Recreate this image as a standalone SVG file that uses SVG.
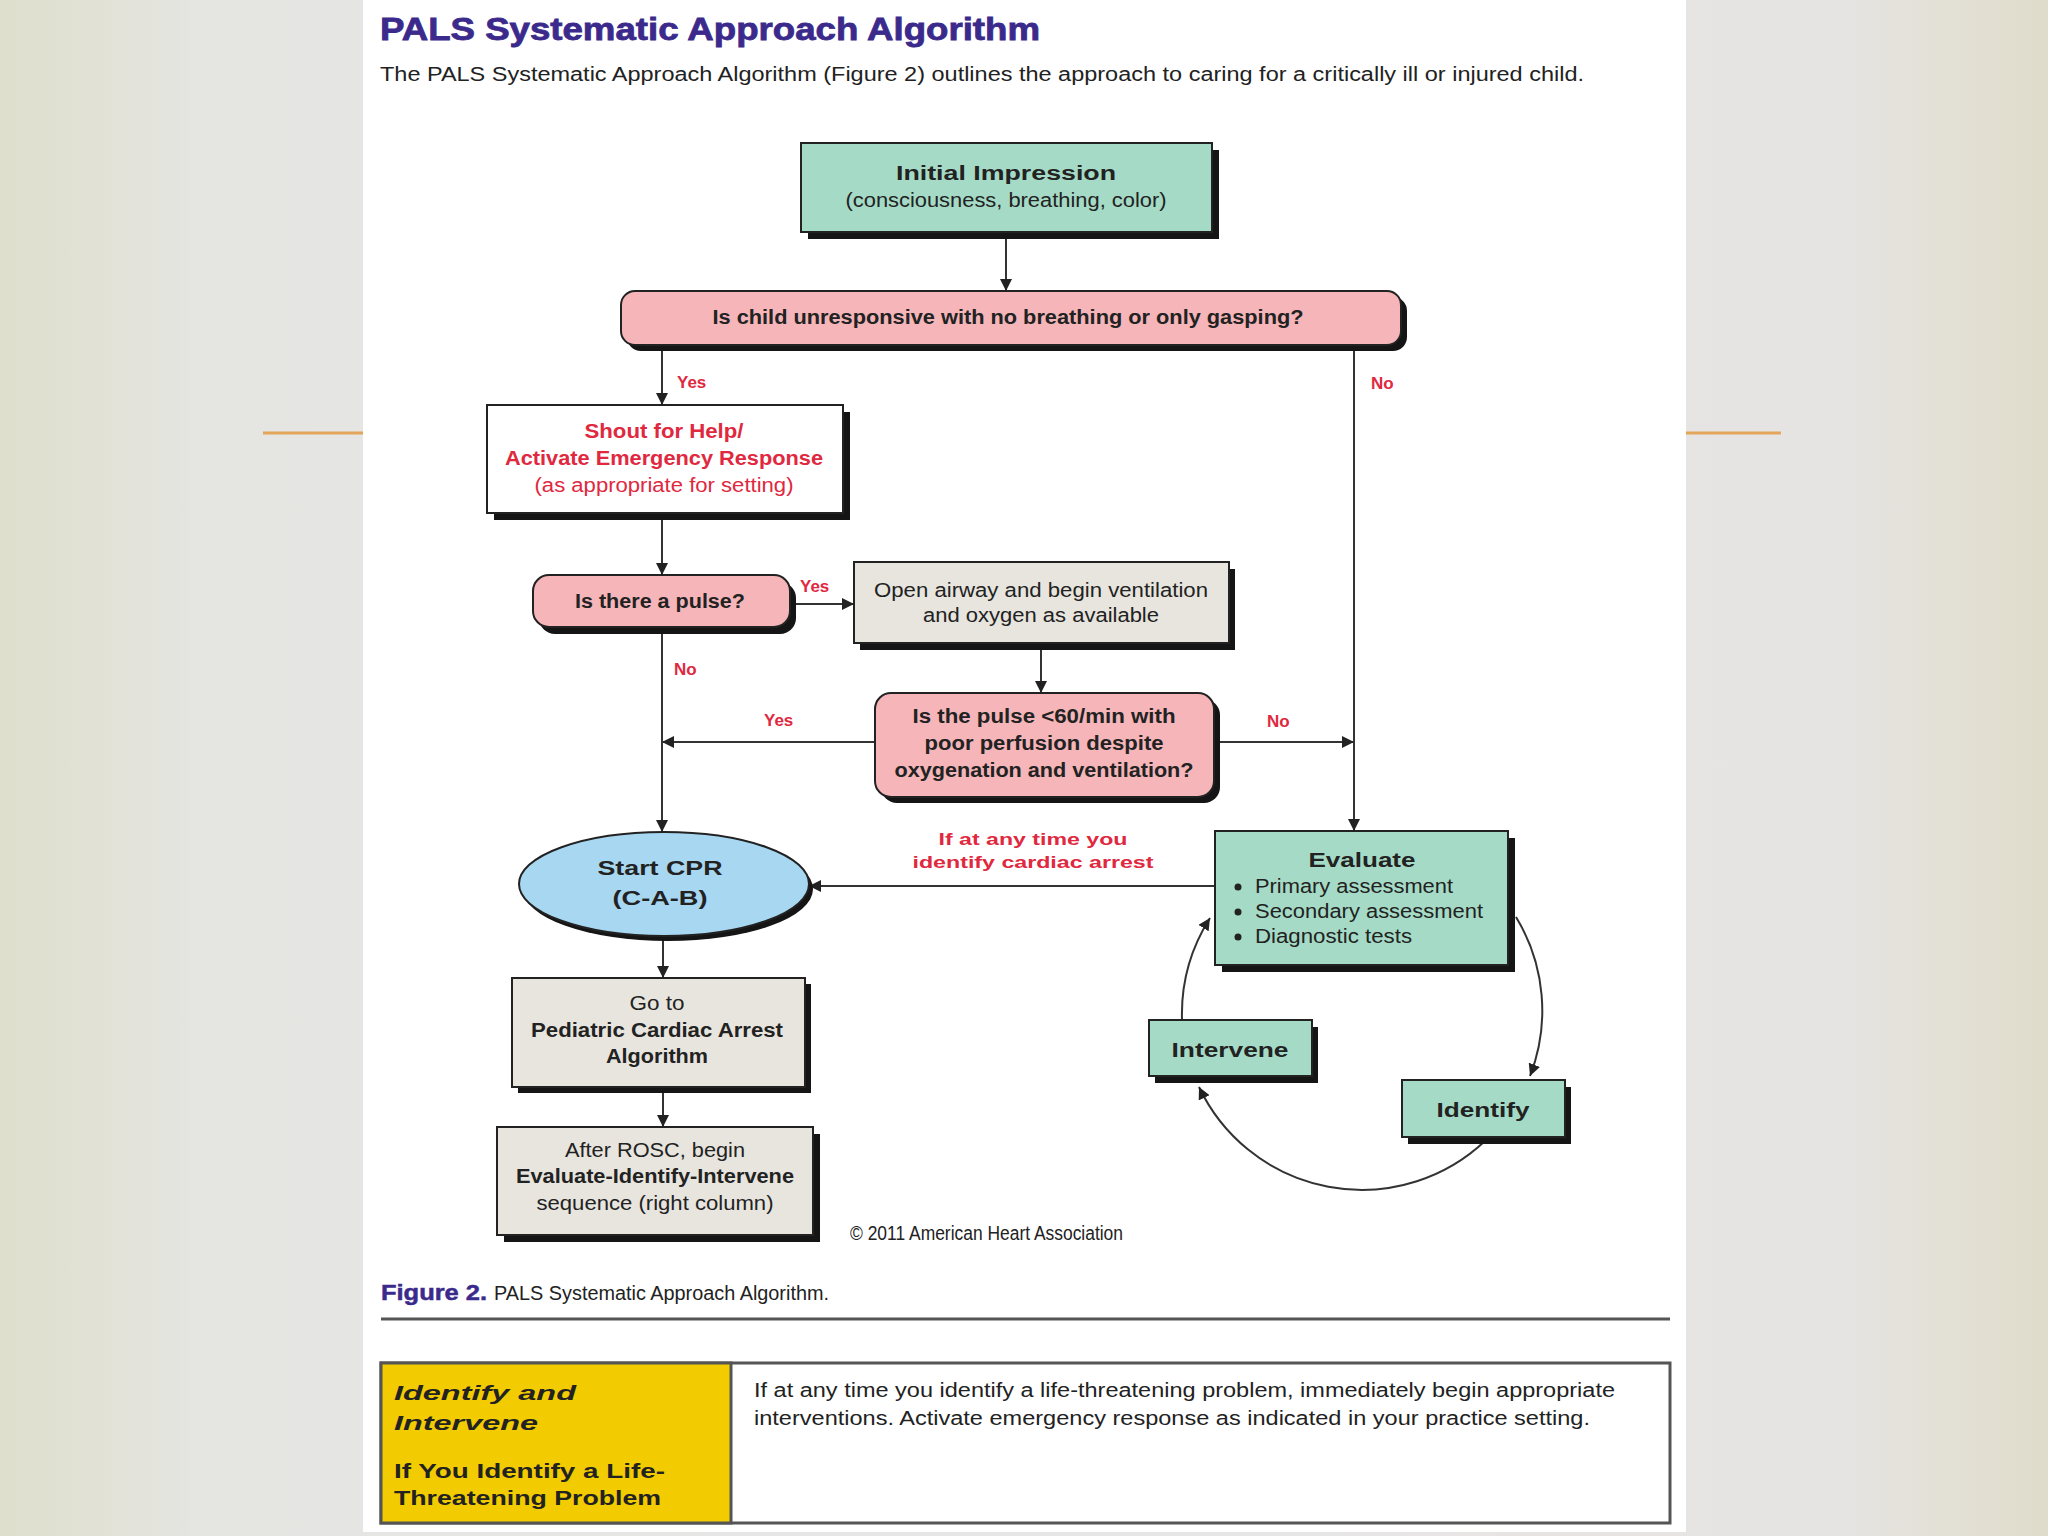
<svg xmlns="http://www.w3.org/2000/svg" width="2048" height="1536" viewBox="0 0 2048 1536">
<defs>
<linearGradient id="bg" x1="0" y1="0" x2="1" y2="0">
<stop offset="0" stop-color="#dedfcc"/>
<stop offset="0.1" stop-color="#e5e5e2"/>
<stop offset="0.5" stop-color="#e7e6e7"/>
<stop offset="0.9" stop-color="#e6e4e2"/>
<stop offset="1" stop-color="#e0dccb"/>
</linearGradient>
<marker id="ah" viewBox="0 0 10 10" refX="10" refY="5" markerWidth="12" markerHeight="12" markerUnits="userSpaceOnUse" orient="auto">
<path d="M0,0 L10,5 L0,10 z" fill="#222"/>
</marker>
</defs>
<style>
text{font-family:"Liberation Sans",Arial,sans-serif;}
.t{font-size:20px;fill:#222;}
.b{font-weight:bold;}
.red{fill:#e0283f;}
.lbl{font-size:17px;font-weight:bold;fill:#e0283f;}
.sh{fill:#151515;}
.mint{fill:#a5dbc6;stroke:#222;stroke-width:2;}
.pink{fill:#f5b5b9;stroke:#222;stroke-width:2;}
.grey{fill:#e7e5de;stroke:#222;stroke-width:2;}
.white{fill:#ffffff;stroke:#222;stroke-width:2;}
.blue{fill:#a7d7f1;stroke:#222;stroke-width:2;}
.c{text-anchor:middle;}
.ln{fill:none;stroke:#333;stroke-width:2;marker-end:url(#ah);}
</style>
<rect x="0" y="0" width="2048" height="1536" fill="url(#bg)"/>
<rect x="363" y="0" width="1323" height="1532" fill="#ffffff"/>
<line x1="263" y1="433" x2="363" y2="433" stroke="#e2a55a" stroke-width="3"/>
<line x1="1686" y1="433" x2="1781" y2="433" stroke="#e2a55a" stroke-width="3"/>

<text x="380" y="40" font-size="31" font-weight="bold" fill="#3b2a8c" stroke="#3b2a8c" stroke-width="0.8" textLength="660" lengthAdjust="spacingAndGlyphs">PALS Systematic Approach Algorithm</text>
<text x="380" y="81" class="t" textLength="1204" lengthAdjust="spacingAndGlyphs">The PALS Systematic Approach Algorithm (Figure 2) outlines the approach to caring for a critically ill or injured child.</text>

<g id="connectors">
<line class="ln" x1="1006" y1="238" x2="1006" y2="291"/>
<line class="ln" x1="662" y1="351" x2="662" y2="405"/>
<line class="ln" x1="1354" y1="351" x2="1354" y2="831"/>
<line class="ln" x1="662" y1="520" x2="662" y2="575"/>
<line class="ln" x1="796" y1="604" x2="854" y2="604"/>
<line class="ln" x1="1041" y1="650" x2="1041" y2="693"/>
<line class="ln" x1="875" y1="742" x2="662" y2="742"/>
<line class="ln" x1="1220" y1="742" x2="1354" y2="742"/>
<line class="ln" x1="662" y1="634" x2="662" y2="832"/>
<line class="ln" x1="1215" y1="886" x2="809" y2="886"/>
<line class="ln" x1="663" y1="939" x2="663" y2="978"/>
<line class="ln" x1="663" y1="1092" x2="663" y2="1127"/>
<path class="ln" d="M1516,917 A180,180 0 0 1 1530,1076"/>
<path class="ln" d="M1485,1141 A180,180 0 0 1 1199,1087"/>
<path class="ln" d="M1182,1020 A180,180 0 0 1 1210,918"/>
<text class="lbl" x="677" y="388">Yes</text>
<text class="lbl" x="1371" y="389">No</text>
<text class="lbl" x="800" y="592">Yes</text>
<text class="lbl" x="674" y="675">No</text>
<text class="lbl" x="764" y="726">Yes</text>
<text class="lbl" x="1267" y="727">No</text>
<text class="lbl c" x="1033" y="845" font-size="19" textLength="189" lengthAdjust="spacingAndGlyphs">If at any time you</text>
<text class="lbl c" x="1033" y="868" font-size="19" textLength="241" lengthAdjust="spacingAndGlyphs">identify cardiac arrest</text>
</g>

<g id="initial">
<rect class="sh" x="808" y="150" width="411" height="89"/>
<rect class="mint" x="801" y="143" width="411" height="89"/>
<text class="t b c" x="1006" y="180" font-size="25" textLength="220" lengthAdjust="spacingAndGlyphs">Initial Impression</text>
<text class="t c" x="1006" y="207" font-size="19" textLength="321" lengthAdjust="spacingAndGlyphs">(consciousness, breathing, color)</text>
</g>

<g id="q-unresponsive">
<rect class="sh" x="627" y="297" width="780" height="54" rx="14"/>
<rect class="pink" x="621" y="291" width="780" height="54" rx="14"/>
<text class="t b c" x="1008" y="324" textLength="591" lengthAdjust="spacingAndGlyphs">Is child unresponsive with no breathing or only gasping?</text>
</g>

<g id="shout">
<rect class="sh" x="494" y="412" width="356" height="108"/>
<rect class="white" x="487" y="405" width="356" height="108"/>
<text class="t b c red" x="664" y="438" font-size="21" textLength="159" lengthAdjust="spacingAndGlyphs">Shout for Help/</text>
<text class="t b c red" x="664" y="465" font-size="21" textLength="318" lengthAdjust="spacingAndGlyphs">Activate Emergency Response</text>
<text class="t c red" x="664" y="492" textLength="259" lengthAdjust="spacingAndGlyphs">(as appropriate for setting)</text>
</g>

<g id="q-pulse">
<rect class="sh" x="539" y="582" width="257" height="52" rx="16"/>
<rect class="pink" x="533" y="575" width="257" height="52" rx="16"/>
<text class="t b c" x="660" y="608" font-size="21" textLength="170" lengthAdjust="spacingAndGlyphs">Is there a pulse?</text>
</g>

<g id="open-airway">
<rect class="sh" x="860" y="569" width="375" height="81"/>
<rect class="grey" x="854" y="562" width="375" height="81"/>
<text class="t c" x="1041" y="597" textLength="334" lengthAdjust="spacingAndGlyphs">Open airway and begin ventilation</text>
<text class="t c" x="1041" y="622" textLength="236" lengthAdjust="spacingAndGlyphs">and oxygen as available</text>
</g>

<g id="q-pulse60">
<rect class="sh" x="881" y="699" width="339" height="104" rx="16"/>
<rect class="pink" x="875" y="693" width="339" height="104" rx="16"/>
<text class="t b c" x="1044" y="723" textLength="263" lengthAdjust="spacingAndGlyphs">Is the pulse &lt;60/min with</text>
<text class="t b c" x="1044" y="750" textLength="239" lengthAdjust="spacingAndGlyphs">poor perfusion despite</text>
<text class="t b c" x="1044" y="777" textLength="299" lengthAdjust="spacingAndGlyphs">oxygenation and ventilation?</text>
</g>

<g id="start-cpr">
<ellipse class="sh" cx="668" cy="889" rx="145" ry="52"/>
<ellipse class="blue" cx="664" cy="884" rx="145" ry="52"/>
<text class="t b c" x="660" y="875" font-size="24" textLength="125" lengthAdjust="spacingAndGlyphs">Start CPR</text>
<text class="t b c" x="660" y="905" font-size="24" textLength="95" lengthAdjust="spacingAndGlyphs">(C-A-B)</text>
</g>

<g id="evaluate">
<rect class="sh" x="1222" y="838" width="293" height="134"/>
<rect class="mint" x="1215" y="831" width="293" height="134"/>
<text class="t b c" x="1362" y="867" font-size="24" textLength="107" lengthAdjust="spacingAndGlyphs">Evaluate</text>
<circle cx="1238" cy="887" r="3.5" fill="#222"/>
<circle cx="1238" cy="912" r="3.5" fill="#222"/>
<circle cx="1238" cy="937" r="3.5" fill="#222"/>
<text class="t" x="1255" y="893" font-size="19" textLength="198" lengthAdjust="spacingAndGlyphs">Primary assessment</text>
<text class="t" x="1255" y="918" font-size="19" textLength="228" lengthAdjust="spacingAndGlyphs">Secondary assessment</text>
<text class="t" x="1255" y="943" font-size="19" textLength="157" lengthAdjust="spacingAndGlyphs">Diagnostic tests</text>
</g>

<g id="intervene">
<rect class="sh" x="1155" y="1027" width="163" height="56"/>
<rect class="mint" x="1149" y="1020" width="163" height="56"/>
<text class="t b c" x="1230" y="1057" font-size="25" textLength="117" lengthAdjust="spacingAndGlyphs">Intervene</text>
</g>

<g id="identify">
<rect class="sh" x="1408" y="1087" width="163" height="57"/>
<rect class="mint" x="1402" y="1080" width="163" height="57"/>
<text class="t b c" x="1483" y="1117" font-size="25" textLength="93" lengthAdjust="spacingAndGlyphs">Identify</text>
</g>

<g id="go-to">
<rect class="sh" x="518" y="984" width="293" height="109"/>
<rect class="grey" x="512" y="978" width="293" height="109"/>
<text class="t c" x="657" y="1010" font-size="19" textLength="55" lengthAdjust="spacingAndGlyphs">Go to</text>
<text class="t b c" x="657" y="1037" textLength="252" lengthAdjust="spacingAndGlyphs">Pediatric Cardiac Arrest</text>
<text class="t b c" x="657" y="1063" textLength="102" lengthAdjust="spacingAndGlyphs">Algorithm</text>
</g>

<g id="after-rosc">
<rect class="sh" x="504" y="1134" width="316" height="108"/>
<rect class="grey" x="497" y="1127" width="316" height="108"/>
<text class="t c" x="655" y="1157" font-size="19" textLength="180" lengthAdjust="spacingAndGlyphs">After ROSC, begin</text>
<text class="t b c" x="655" y="1183" textLength="278" lengthAdjust="spacingAndGlyphs">Evaluate-Identify-Intervene</text>
<text class="t c" x="655" y="1210" font-size="19" textLength="237" lengthAdjust="spacingAndGlyphs">sequence (right column)</text>
</g>

<text class="t" x="850" y="1240" font-size="16" textLength="273" lengthAdjust="spacingAndGlyphs">© 2011 American Heart Association</text>
<text x="381" y="1300" font-size="22" font-weight="bold" fill="#3b2a8c" stroke="#3b2a8c" stroke-width="0.5" textLength="106" lengthAdjust="spacingAndGlyphs">Figure 2.</text>
<text class="t" x="494" y="1300" font-size="18" textLength="335" lengthAdjust="spacingAndGlyphs">PALS Systematic Approach Algorithm.</text>
<line x1="381" y1="1319" x2="1670" y2="1319" stroke="#555" stroke-width="3"/>

<g id="table">
<rect x="381" y="1363" width="1289" height="160" fill="#ffffff" stroke="#555" stroke-width="3"/>
<rect x="381" y="1363" width="350" height="160" fill="#f2cb00" stroke="#555" stroke-width="3"/>
<text class="t b" x="394" y="1400" font-size="24" font-style="italic" textLength="182" lengthAdjust="spacingAndGlyphs">Identify and</text>
<text class="t b" x="394" y="1430" font-size="24" font-style="italic" textLength="144" lengthAdjust="spacingAndGlyphs">Intervene</text>
<text class="t b" x="394" y="1478" font-size="22" textLength="271" lengthAdjust="spacingAndGlyphs">If You Identify a Life-</text>
<text class="t b" x="394" y="1505" font-size="22" textLength="267" lengthAdjust="spacingAndGlyphs">Threatening Problem</text>
<text class="t" x="754" y="1397" textLength="861" lengthAdjust="spacingAndGlyphs">If at any time you identify a life-threatening problem, immediately begin appropriate</text>
<text class="t" x="754" y="1425" textLength="836" lengthAdjust="spacingAndGlyphs">interventions. Activate emergency response as indicated in your practice setting.</text>
</g>
</svg>
